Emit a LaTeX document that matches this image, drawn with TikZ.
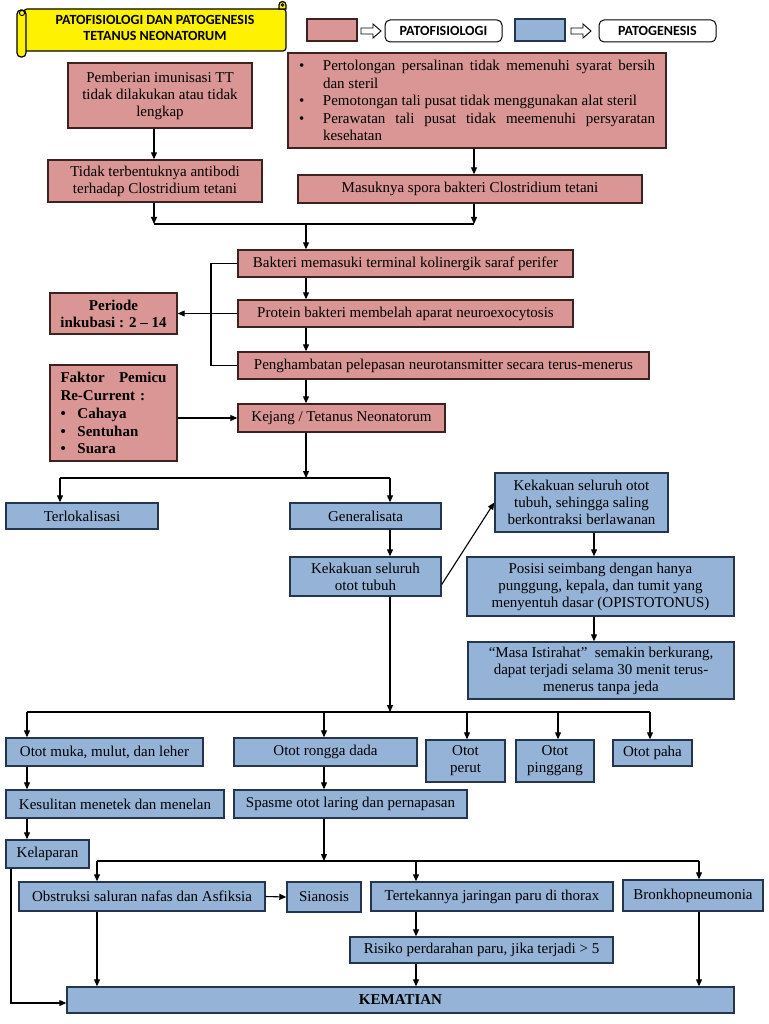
\documentclass[tikz,border=0pt]{standalone}
\usepackage{fontspec}
\setmainfont{Liberation Serif}
\newfontfamily\hdfont{Carlito}
\usetikzlibrary{arrows.meta}
\definecolor{pinkfill}{HTML}{D99694}
\definecolor{pinkline}{HTML}{3D2222}
\definecolor{bluefill}{HTML}{95B3D7}
\definecolor{blueline}{HTML}{23364D}
\newcommand{\txtsz}{\fontsize{15}{17}\selectfont}
\newcommand{\hdsz}{\hdfont\bfseries\fontsize{14}{16.5}\selectfont}
\newcommand{\blt}{\noindent\llap{\makebox[24pt][l]{\textbullet}}}
\newcommand{\mybox}[7]{\node[#1, minimum width={(#5)-(#3)}, minimum height={(#6)-(#4)}] (#2) at ({((#3)+(#5))/2},{((#4)+(#6))/2}) {#7};}
\begin{document}
\begin{tikzpicture}[x=1pt,y=-1pt,
  box/.style={draw, line width=1.4pt, inner sep=0pt, align=center, font=\txtsz},
  pinkbox/.style={box, fill=pinkfill, draw=pinkline},
  bluebox/.style={box, fill=bluefill, draw=blueline},
  legendbox/.style={draw=black, fill=white, rounded corners=5pt, line width=1pt, inner sep=0pt, font=\hdsz},
  legarr/.style={draw=black, fill=white, line width=0.9pt, line join=miter},
  scroll/.style={draw=black, fill=yellow, line width=1.2pt},
  arr/.style={-{Triangle[length=7pt,width=6pt]}, line width=1.1pt},
  ln/.style={line width=1.1pt}]
\fill[white] (0,0) rectangle (768,1024);
\useasboundingbox (0,0) rectangle (768,1024);

% ---- title scroll ----
\draw[scroll, rounded corners=3pt] (24,9) -- (286,9) -- (286,51) -- (24,51) -- cycle;
\draw[scroll] (279,9) -- (279,5) arc (180:360:3.5) -- (286,9) -- cycle;
\draw[line width=0.8pt] (282.5,5) circle (1.3);
\draw[scroll, rounded corners=4pt] (17,10) rectangle (26,57);
\draw[line width=0.9pt] (22,13) circle (2.6);
\node[font=\hdsz, align=center, inner sep=0pt] (title) at (155,28) {PATOFISIOLOGI DAN PATOGENESIS\\TETANUS NEONATORUM};

% ---- legend ----
\mybox{pinkbox, line width=1.2pt}{LP}{307}{19}{357}{41}{}
\draw[legarr] (361,28) -- (373,28) -- (373,24) -- (381,31) -- (373,38) -- (373,34) -- (361,34) -- cycle;
\mybox{legendbox}{LT1}{385}{20}{502}{42}{PATOFISIOLOGI}
\mybox{bluebox, line width=1.2pt}{LB}{515}{19}{565}{41}{}
\draw[legarr] (571,28) -- (583,28) -- (583,24) -- (591,31) -- (583,38) -- (583,34) -- (571,34) -- cycle;
\mybox{legendbox}{LT2}{599}{20}{716}{42}{PATOGENESIS}

% ---- pink part ----
\mybox{pinkbox}{A}{68}{63}{252}{128}{Pemberian imunisasi TT\\tidak dilakukan atau tidak\\lengkap}
\mybox{pinkbox}{B}{288}{53}{666}{148}{\parbox{356pt}{\txtsz\baselineskip=17.5pt\leftskip=24pt\parindent=0pt\tolerance=9999\hyphenpenalty=10000\exhyphenpenalty=10000\relax
\blt Pertolongan persalinan tidak memenuhi syarat bersih dan steril\par
\blt Pemotongan tali pusat tidak menggunakan alat steril\par
\blt Perawatan tali pusat tidak meemenuhi persyaratan kesehatan\par}}
\mybox{pinkbox}{C}{48}{160}{262}{202}{Tidak terbentuknya antibodi\\terhadap Clostridium tetani}
\mybox{pinkbox}{D}{298}{175}{642}{203}{Masuknya spora bakteri Clostridium tetani}
\mybox{pinkbox}{E}{238}{250}{573}{277}{Bakteri memasuki terminal kolinergik saraf perifer}
\mybox{pinkbox}{F}{238}{300}{573}{327}{Protein bakteri membelah aparat neuroexocytosis}
\mybox{pinkbox}{P}{50}{293}{177}{334}{\bfseries Periode\\\bfseries inkubasi : 2 – 14}
\mybox{pinkbox}{G}{238}{352}{649}{379}{Penghambatan pelepasan neurotansmitter secara terus-menerus}
\mybox{pinkbox, align=left, text width=106pt}{Fk}{50}{365}{177}{461}{\bfseries\fontsize{15}{18}\selectfont
\makebox[106pt][s]{Faktor\hfill Pemicu}\\
Re-Current :\\
\makebox[17pt][l]{\textbullet}Cahaya\\
\makebox[17pt][l]{\textbullet}Sentuhan\\
\makebox[17pt][l]{\textbullet}Suara}
\mybox{pinkbox}{H}{238}{404}{445}{432}{Kejang / Tetanus Neonatorum}

% ---- blue part ----
\mybox{bluebox}{T}{6}{503}{158}{529}{Terlokalisasi}
\mybox{bluebox}{G2}{290}{503}{441}{529}{Generalisata}
\mybox{bluebox}{K1}{290}{557}{441}{596}{Kekakuan seluruh\\otot tubuh}
\mybox{bluebox}{K2}{495}{473}{668}{532}{Kekakuan seluruh otot\\tubuh, sehingga saling\\berkontraksi berlawanan}
\mybox{bluebox}{K3}{467}{557}{734}{616}{Posisi seimbang dengan hanya\\punggung, kepala, dan tumit yang\\menyentuh dasar (OPISTOTONUS)}
\mybox{bluebox}{K4}{468}{642}{734}{699}{“Masa Istirahat”\ \ semakin berkurang,\\dapat terjadi selama 30 menit terus-\\menerus tanpa jeda}
\mybox{bluebox}{M1}{6}{738}{203}{766}{Otot muka, mulut, dan leher}
\mybox{bluebox}{M2}{234}{738}{417}{766}{Otot rongga dada}
\mybox{bluebox}{M3}{426}{740}{505}{782}{Otot\\perut}
\mybox{bluebox}{M4}{516}{740}{594}{782}{Otot\\pinggang}
\mybox{bluebox}{M5}{613}{740}{692}{766}{Otot paha}
\mybox{bluebox}{N1}{6}{790}{224}{818}{Kesulitan menetek dan menelan}
\mybox{bluebox}{N2}{234}{790}{467}{818}{Spasme otot laring dan pernapasan}
\mybox{bluebox}{Kel}{6}{840}{89}{868}{Kelaparan}
\mybox{bluebox}{O1}{19}{882}{265}{911}{Obstruksi saluran nafas dan Asfiksia}
\mybox{bluebox}{O2}{287}{882}{361}{912}{Sianosis}
\mybox{bluebox}{O3}{371}{882}{613}{911}{Tertekannya jaringan paru di thorax}
\mybox{bluebox}{O4}{623}{880}{763}{911}{Bronkhopneumonia}
\mybox{bluebox}{R}{350}{937}{613}{963}{Risiko perdarahan paru, jika terjadi > 5}
\mybox{bluebox}{KEM}{67}{987}{734}{1013}{\bfseries KEMATIAN}

% ---- junction coordinates ----
\coordinate (xa) at (154,224);
\coordinate (xb) at (474,224);
\coordinate (j1) at (306,224);
\coordinate (br) at (211,300);
\coordinate (b1) at (306,478);
\coordinate (b1L) at (60,478);
\coordinate (b1R) at (390,478);
\coordinate (kk) at (594,540);
\coordinate (b2) at (390,712);
\coordinate (b2L) at (27,712);
\coordinate (b2M) at (324,712);
\coordinate (b2P) at (467,712);
\coordinate (b2Q) at (558,712);
\coordinate (b2R) at (650,712);
\coordinate (b3) at (324,861);
\coordinate (b3L) at (97,861);
\coordinate (b3M) at (416,861);
\coordinate (b3R) at (699,861);
\coordinate (kx) at (11,930);

% ---- connectors: pink part ----
\draw[arr] (A.south -| xa) -- (C.north -| xa);
\draw[arr] (B.south -| xb) -- (D.north -| xb);
\draw[arr] (C.south -| xa) -- (xa);
\draw[arr] (D.south -| xb) -- (xb);
\draw[ln] (xa) -- (xb);
\draw[arr] (j1) -- (E.north -| j1);
\draw[arr] (E.south -| j1) -- (F.north -| j1);
\draw[arr] (F.south -| j1) -- (G.north -| j1);
\draw[arr] (G.south -| j1) -- (H.north -| j1);
\draw[ln] (E.west) -- (E.west -| br) -- (G.west -| br) -- (G.west);
\draw[arr] (F.west) -- (P.east);
\draw[arr] (H.west -| Fk.east) -- (H.west);

% ---- connectors: blue part ----
\draw[arr] (H.south -| b1) -- (b1);
\draw[ln] (b1L) -- (b1R);
\draw[arr] (b1L) -- (b1L |- T.north);
\draw[arr] (b1R) -- (b1R |- G2.north);
\draw[arr] (G2.south -| b1R) -- (K1.north -| b1R);
\draw[arr] ([yshift=-8pt]K1.east) -- (K2.west);
\draw[arr] (K2.south -| kk) -- (K3.north -| kk);
\draw[arr] (K3.south -| kk) -- (K4.north -| kk);
\draw[arr] (K1.south -| b2) -- (b2);
\draw[ln] (b2L) -- (b2R);
\draw[arr] (b2L) -- (b2L |- M1.north);
\draw[arr] (b2M) -- (b2M |- M2.north);
\draw[arr] (b2P) -- (b2P |- M3.north);
\draw[arr] (b2Q) -- (b2Q |- M4.north);
\draw[arr] (b2R) -- (b2R |- M5.north);
\draw[arr] (M1.south -| b2L) -- (N1.north -| b2L);
\draw[arr] (N1.south -| b2L) -- (Kel.north -| b2L);
\draw[arr] (M2.south -| b2M) -- (N2.north -| b2M);
\draw[arr] (N2.south -| b3) -- (b3);
\draw[ln] (b3L) -- (b3R);
\draw[arr] (b3L) -- (b3L |- O1.north);
\draw[arr] (b3M) -- (b3M |- O3.north);
\draw[arr] (b3R) -- (b3R |- O4.north);
\draw[arr] (O1.east) -- (O2.west);
\draw[arr] (O3.south -| b3M) -- (R.north -| b3M);
\draw[arr] (R.south -| b3M) -- (KEM.north -| b3M);
\draw[arr] (O1.south -| b3L) -- (KEM.north -| b3L);
\draw[arr] (O4.south -| b3R) -- (KEM.north -| b3R);
\draw[arr] (Kel.south -| kx) |- ([yshift=-3pt]KEM.west);
\end{tikzpicture}
\end{document}
